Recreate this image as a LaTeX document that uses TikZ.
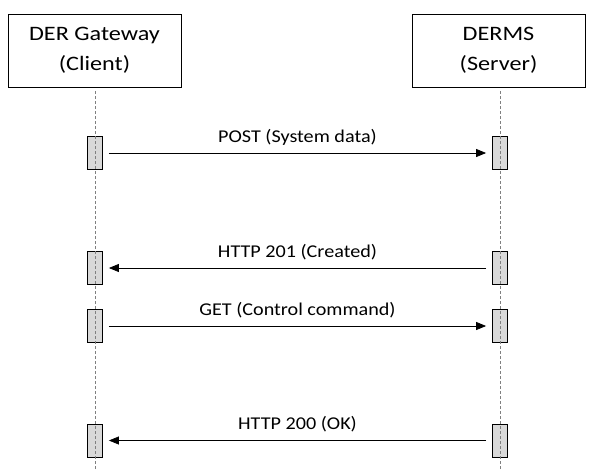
\documentclass[tikz,border=0pt]{standalone}
\usepackage{fontspec}
\setmainfont{Carlito}
\newfontfamily\headfont[FakeStretch=1.18]{Carlito}
\newfontfamily\msgfont[FakeStretch=1.12]{Carlito}
\usetikzlibrary{arrows.meta}
\begin{document}
\begin{tikzpicture}[x=1pt,y=-1pt,
  actor/.style={draw, line width=0.8pt, minimum width=173pt, minimum height=73pt, align=center, font=\headfont\fontsize{20.5}{30}\selectfont, inner sep=0pt},
  life/.style={draw=gray, dash pattern=on 3pt off 2pt, line width=0.6pt},
  act/.style={draw, fill=gray!30, line width=0.8pt, minimum width=15pt, minimum height=33pt, inner sep=0pt},
  msg/.style={-{Triangle[length=10pt,width=8pt]}, line width=0.7pt},
  lbl/.style={font=\msgfont\fontsize{18}{20}\selectfont, anchor=base, yshift=11pt, inner sep=0pt}]
\useasboundingbox (0,0) rectangle (597,469);
\node[actor] (client) at (94.5,50.5) {DER Gateway\\(Client)};
\node[actor] (server) at (498.5,50.5) {DERMS\\(Server)};
\node[act] (c1) at (95,153) {};
\node[act] (s1) at (500,153) {};
\node[act] (c2) at (95,268) {};
\node[act] (s2) at (500,268) {};
\node[act] (c3) at (95,326) {};
\node[act] (s3) at (500,326) {};
\node[act] (c4) at (95,440.5) {};
\node[act] (s4) at (500,440.5) {};
\coordinate (cb) at (95,469);
\coordinate (sb) at (500,469);
\draw[life] (95,91) -- (cb);
\draw[life] (500,91) -- (sb);
\draw[msg] ([xshift=6pt]c1.east) -- node[lbl] {POST (System data)} ([xshift=-6pt]s1.west);
\draw[msg] ([xshift=-6pt]s2.west) -- node[lbl] {HTTP 201 (Created)} ([xshift=6pt]c2.east);
\draw[msg] ([xshift=6pt]c3.east) -- node[lbl] {GET (Control command)} ([xshift=-6pt]s3.west);
\draw[msg] ([xshift=-6pt]s4.west) -- node[lbl] {HTTP 200 (OK)} ([xshift=6pt]c4.east);
\end{tikzpicture}
\end{document}
